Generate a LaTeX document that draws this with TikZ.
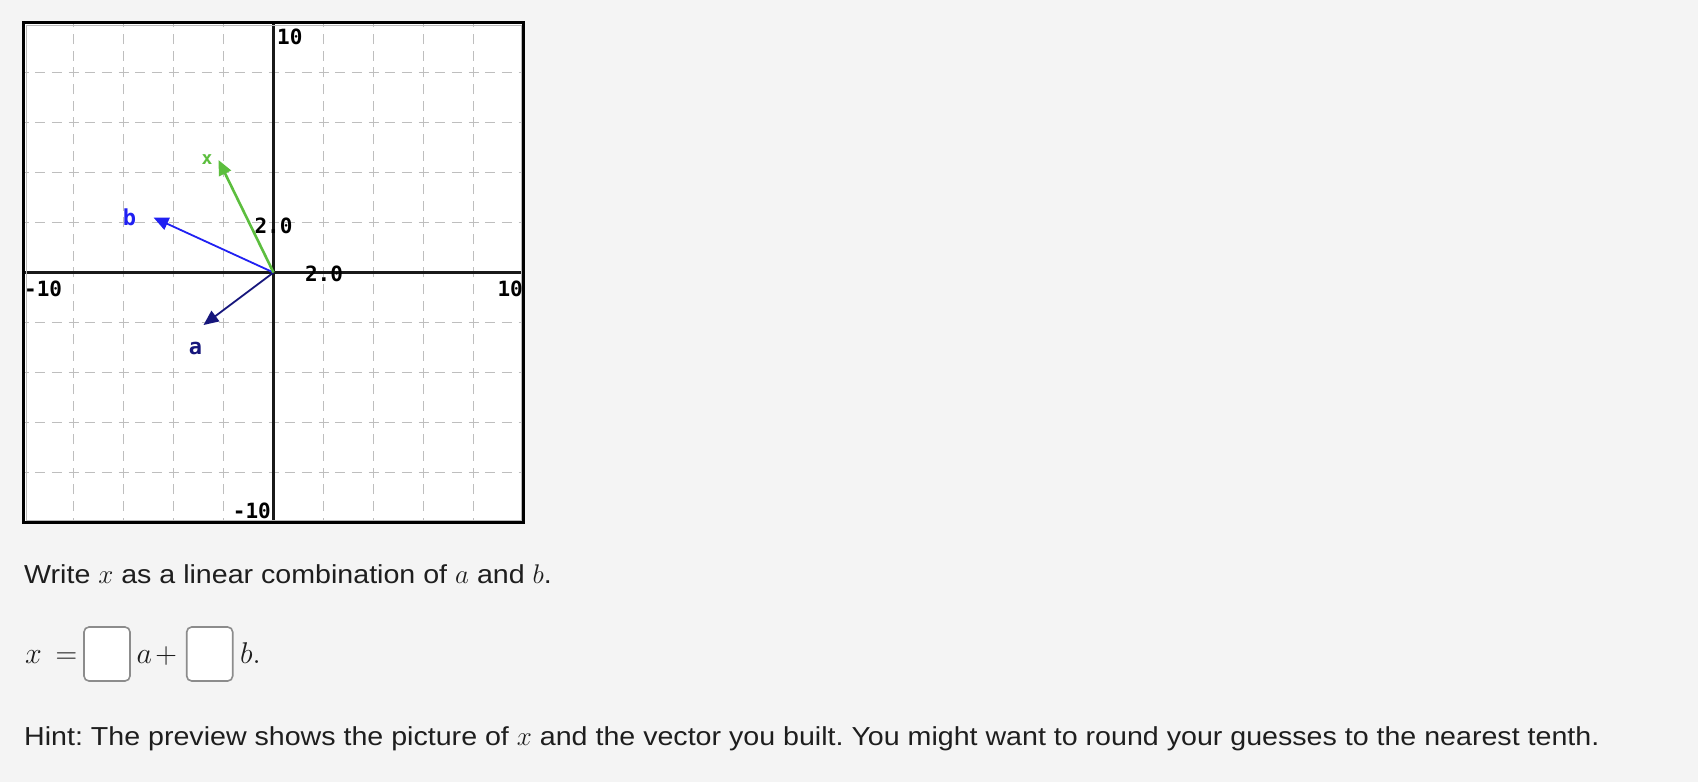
\RequirePackage{fix-cm}
\documentclass[tikz,border=0pt]{standalone}
\usepackage[no-math]{fontspec}
\setmainfont{Liberation Sans}[FakeStretch=1.1]
\newfontfamily\pixfont{DejaVu Sans Mono}
\usetikzlibrary{arrows.meta}
\definecolor{pagebg}{HTML}{F4F4F4}
\definecolor{gridgray}{HTML}{BEBEBE}
\definecolor{boxgray}{HTML}{8C8C8C}
\definecolor{ink}{HTML}{1E1E1E}
\definecolor{vecgreen}{HTML}{5CBE3E}
\definecolor{vecblue}{HTML}{2020F2}
\definecolor{vecnavy}{HTML}{16167C}
\newcommand\promptmath{\fontsize{27}{27}\selectfont}
\newcommand\eqmath{\fontsize{30}{30}\selectfont}
\frenchspacing
\begin{document}
\begin{tikzpicture}[x=1pt,y=-1pt,
    gridline/.style={gridgray,line width=1.8pt,dash pattern=on 10pt off 6.667pt,dash phase=5pt},
    axisline/.style={black!90,line width=2.2pt},
    vec/.style={line width=1.8pt,-{Triangle[length=15pt,width=13pt]}},
    ticklab/.style={font=\pixfont\bfseries\fontsize{21}{21}\selectfont,inner sep=0pt},
    veclab/.style={font=\pixfont\bfseries\fontsize{22}{22}\selectfont,inner sep=0pt},
    answerbox/.style={draw=boxgray,line width=1.6pt,fill=white,rounded corners=5pt,
      minimum width=46pt,minimum height=54pt,inner sep=0pt},
    txt/.style={font=\fontsize{26}{30}\selectfont,text=ink,inner sep=0pt,anchor=base west}]
  \fill[pagebg] (0,0) rectangle (1698,782);
  \useasboundingbox (0,0) rectangle (1698,782);

  % the plot, 25pt to one unit
  \begin{scope}[shift={(273.5,272.5)},x=25pt,y=25pt]
    \fill[white] (-10,-10) rectangle (10,10);
    \foreach \k in {-8,-6,...,8} {
      \draw[gridline] (\k,-10) -- (\k,10);
      \draw[gridline] (-10,\k) -- (10,\k);
    }
    \draw[axisline] (-10,0) -- (10,0) (0,-10) -- (0,10);
    \draw[gray!55,line width=1pt] (-9.9,-9.9) rectangle (9.9,9.9);
    \draw[line width=2.6pt] (-10,-10) rectangle (10,10);

    \node[ticklab,anchor=north west] (ytop) at (0.14,9.74) {10};
    \node[ticklab,anchor=south east] (ybot) at (-0.1,-9.86) {-10};
    \node[ticklab,anchor=north west] (xleft) at (-9.98,-0.34) {-10};
    \node[ticklab,anchor=north east] (xright) at (9.98,-0.34) {10};
    \node[ticklab] (xtwo) at (2.02,-0.06) {2.0};
    \node[ticklab] (ytwo) at (0,1.88) {2.0};

    \coordinate (O) at (0,0);
    \coordinate (atip) at (-2.8,-2.1);
    \coordinate (btip) at (-4.8,2.2);
    \coordinate (xtip) at (-2.2,4.5);
    \begin{scope}[vec]
      \draw[vecblue] (O) -- (btip);
      \draw[vecnavy] (O) -- (atip);
      \draw[vecgreen,line width=2.6pt] (O) -- (xtip);
    \end{scope}
    \node[veclab,text=vecblue] (blab) at (-5.76,2.2) {b};
    \node[veclab,text=vecnavy] (alab) at (-3.12,-3.02) {a};
    \node[veclab,text=vecgreen,font=\pixfont\bfseries\fontsize{18}{18}\selectfont] (xlab) at (-2.66,4.5) {x};
  \end{scope}

  % question text
  \node[txt] (prompt) at (24,583.5)
    {Write {\promptmath$x$} as a linear combination of {\promptmath$a$} and {\promptmath$b$}.};
  \node[txt,font=\eqmath] (xeq) at (25,663) {$x$};
  \node[txt,font=\eqmath] (eqsign) at (55.5,663) {$=$};
  \node[answerbox] (boxa) at (107,654) {};
  \node[txt,font=\eqmath] (aplus) at (136.5,663) {$a\mkern2mu{+}$};
  \node[answerbox] (boxb) at (209.7,654) {};
  \node[txt,font=\eqmath] (bdot) at (240,663) {$b.$};
  \node[txt] (hint) at (24,745)
    {Hint: The preview shows the picture of {\promptmath$x$} and the vector you built. You might want to round your guesses to the nearest tenth.};
\end{tikzpicture}
\end{document}
